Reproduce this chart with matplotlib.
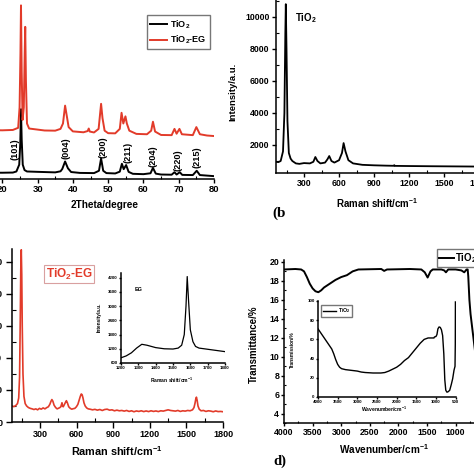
import numpy as np
import matplotlib
matplotlib.use('Agg')
import matplotlib.pyplot as plt
from matplotlib.ticker import MultipleLocator

plt.rcParams['font.family'] = ['Liberation Sans', 'DejaVu Sans']
plt.rcParams['font.weight'] = 'bold'
plt.rcParams['mathtext.fontset'] = 'custom'
plt.rcParams['mathtext.rm'] = 'Liberation Sans:bold'
plt.rcParams['mathtext.bf'] = 'Liberation Sans:bold'
plt.rcParams['mathtext.default'] = 'bf'
plt.rcParams['axes.linewidth'] = 1.1

RED = '#e23b2a'

# ---- (a) XRD ----
xrd_x_tio2 = [10, 20, 23, 24, 24.8, 25.1, 25.3, 25.5, 25.8, 26.3, 27, 30, 35, 36.5, 37, 37.8, 38.6,
              39.5, 42, 46, 47.4, 48.0, 48.6, 49.5, 52, 53.3, 53.9, 54.4, 55.1, 55.8, 57, 60, 62,
              62.7, 63.5, 65, 68, 68.8, 69.4, 70.3, 71, 74, 75.1, 76, 78, 80]
xrd_y_tio2 = [3.6, 3.5, 3.6, 4.2, 8, 20, 39, 22, 8, 5, 4.2, 4.0, 3.7, 4.3, 5.6, 9.8, 6,
              3.9, 3.4, 3.3, 4.6, 11.5, 4.6, 3.3, 3.1, 4.1, 8.5, 5.5, 7.8, 4.0, 2.9, 2.7, 3.2,
              6.2, 3.0, 2.5, 2.4, 3.8, 2.5, 3.8, 2.3, 2.2, 4.6, 2.2, 1.9, 1.6]
xrd_x_eg = [10, 20, 23, 24.5, 24.9, 25.15, 25.3, 25.5, 25.75, 26.1, 26.35, 26.5, 26.7, 27, 27.6,
            30, 32, 35, 36.5, 37.2, 37.8, 38.3, 38.8, 40, 43, 44.2, 44.5, 44.8, 46, 47.3, 47.7,
            48.0, 48.4, 49, 50, 52, 53.3, 53.8, 54.3, 54.9, 55.3, 56, 58, 61, 62.2, 62.7, 63.3,
            65, 68, 68.8, 69.4, 70.2, 70.9, 74, 75, 76, 78, 80]
xrd_y_eg = [27.5, 27.2, 27.4, 28.6, 40, 70, 97, 60, 33, 40, 70, 85, 55, 31, 28.2,
            27.6, 27.1, 27.0, 28.0, 31, 41, 35, 29, 26.6, 26.1, 26.8, 28.2, 26.5, 26.0, 28, 36,
            42, 34, 27, 25.6, 25.5, 28, 37, 31, 35, 31, 27, 25.2, 25.0, 27, 32, 26.5,
            24.6, 24.5, 28, 25.3, 28, 25.0, 24.5, 29, 25.0, 24.3, 24.0]
hkl_labels = ['(101)', '(004)', '(200)', '(211)', '(204)', '(220)', '(215)']
hkl_x = [23.6, 38.0, 48.5, 55.6, 62.7, 69.8, 75.2]
hkl_y = [16.8, 17.0, 17.6, 15.1, 12.8, 10.6, 12.0]

# ---- (b) Raman TiO2 ----
raman_x_tio2 = [60, 80, 100, 120, 132, 140, 144, 150, 158, 170, 185, 200, 230, 260, 300, 350,
                380, 397, 415, 440, 480, 500, 516, 535, 560, 600, 625, 639, 655, 680, 720, 800,
                900, 1000, 1068, 1073, 1078, 1200, 1400, 1600, 1800, 1850]
raman_y_tio2 = [950, 930, 1000, 1600, 4000, 9000, 10800, 8000, 3500, 1500, 1150, 1000, 850, 820,
                870, 850, 950, 1250, 1000, 850, 900, 1100, 1310, 1000, 900, 1050, 1500, 2120,
                1600, 1050, 850, 760, 730, 710, 700, 740, 695, 685, 672, 662, 652, 650]

# ---- (c) Raman TiO2-EG ----
raman_x_eg = [70, 85, 100, 115, 125, 132, 138, 142, 146, 150, 154, 160, 168, 178, 190, 205, 220,
              235, 250, 265, 280, 295, 310, 325, 340, 355, 368, 380, 390, 397, 405, 415, 428,
              440, 452, 462, 470, 476, 480, 484, 490, 500, 510, 516, 524, 535, 548, 560, 572,
              585, 598, 610, 620, 630, 638, 645, 652, 660, 670, 682, 695, 710, 730, 750, 770,
              790, 810, 830, 850, 870, 890, 910, 930, 950, 970, 990, 1010, 1030, 1050, 1070,
              1090, 1110, 1130, 1150, 1170, 1190, 1210, 1230, 1250, 1270, 1290, 1310, 1330,
              1350, 1370, 1390, 1410, 1430, 1450, 1470, 1490, 1510, 1530, 1550, 1562, 1570,
              1576, 1582, 1588, 1595, 1605, 1620, 1640, 1660, 1680, 1700, 1720, 1740, 1760,
              1780, 1800]
raman_y_eg = [1000, 960, 1020, 1150, 1500, 2800, 6500, 9500, 10750, 9200, 6000, 3000, 1600, 1150,
              1000, 900, 850, 820, 780, 820, 760, 850, 800, 880, 820, 900, 950, 1100, 1300,
              1400, 1300, 1050, 900, 820, 860, 900, 950, 1100, 1200, 1000, 950, 1100, 1250,
              1330, 1200, 950, 850, 800, 830, 850, 950, 1100, 1350, 1600, 1750, 1700, 1500,
              1200, 1000, 880, 820, 800, 760, 790, 740, 780, 720, 780, 800, 740, 760, 700, 740,
              700, 720, 680, 720, 660, 700, 640, 690, 660, 700, 650, 690, 650, 700, 660, 690,
              650, 700, 680, 720, 760, 720, 700, 680, 720, 660, 700, 680, 720, 700, 760, 900,
              1150, 1400, 1550, 1350, 1000, 800, 700, 720, 660, 700, 680, 640, 690, 650, 660, 640]

# inset: EG
eg_x = [1200, 1230, 1260, 1290, 1320, 1350, 1400, 1450, 1500, 1530, 1550, 1565, 1575, 1582,
        1590, 1600, 1615, 1630, 1650, 1700, 1750, 1800]
eg_y = [820, 900, 1030, 1230, 1390, 1350, 1250, 1200, 1190, 1230, 1350, 1800, 3000, 4250,
        3200, 2000, 1500, 1300, 1230, 1180, 1130, 1080]

# ---- (d) FTIR ----
ftir_x = [4000, 3800, 3700, 3650, 3600, 3550, 3500, 3450, 3400, 3350, 3300, 3200, 3100, 3000,
          2950, 2900, 2850, 2800, 2700, 2300, 2250, 2200, 1800, 1600, 1540, 1490, 1440, 1400,
          1250, 1200, 1170, 1130, 1000, 900, 850, 810, 790, 780, 760, 740, 720, 700, 680,
          650, 600, 500]
ftir_y = [19.2, 19.25, 19.2, 19.0, 18.4, 17.7, 17.2, 16.9, 16.8, 17.0, 17.3, 17.7, 18.1, 18.4,
          18.5, 18.6, 18.8, 19.0, 19.2, 19.25, 19.05, 19.2, 19.25, 19.2, 18.9, 18.35, 19.0, 19.2,
          19.2, 19.1, 18.9, 19.2, 19.2, 19.1, 18.9, 19.2, 19.2, 18.5, 16, 14.5, 13.5, 12.5,
          11.5, 10, 8, 5]

# inset: TiO2 transmission
tr_x = [4000, 3950, 3900, 3800, 3700, 3650, 3600, 3550, 3500, 3450, 3400, 3300, 3100, 3000,
        2900, 2800, 2600, 2400, 2300, 2200, 2100, 2000, 1900, 1800, 1700, 1600, 1500, 1400,
        1300, 1200, 1050, 1040, 1000, 975, 950, 920, 890, 860, 830, 800, 775, 750, 720, 690,
        650, 610, 575, 540, 515, 508, 505]
tr_y = [71, 68, 65, 59, 53, 50, 45, 39, 34, 31, 29.5, 28.5, 27.5, 27, 26, 25.5, 25, 25, 25.5,
        27, 29, 31, 34, 38, 41, 46, 51, 56, 60, 61.5, 61.5, 62.5, 63, 65, 71, 73, 72.5, 70, 64,
        45, 18, 7, 5, 5.5, 7, 13, 19, 28, 32, 55, 99]

fig = plt.figure(figsize=(4.74, 4.74), dpi=100)


def box(l, t, r, b):
    return [l / 474, 1 - b / 474, (r - l) / 474, (b - t) / 474]


def style(ax, size, ln=3, pad=1.5):
    ax.spines['top'].set_visible(False)
    ax.spines['right'].set_visible(False)
    ax.tick_params(which='major', direction='out', length=ln, width=1, labelsize=size, pad=pad)
    ax.tick_params(which='minor', direction='in', length=ln * 0.7, width=0.8)


def ftext(x, y, s, **kw):
    kw.setdefault('ha', 'center')
    kw.setdefault('va', 'center')
    fig.text(x / 474, 1 - y / 474, s, **kw)


# (a)
ax = fig.add_axes(box(-33, 0, 214, 179))
ax.plot(xrd_x_tio2, xrd_y_tio2, color='black', lw=1.4, label='TiO$_2$')
ax.plot(xrd_x_eg, xrd_y_eg, color=RED, lw=1.4, label='TiO$_2$-EG')
ax.set_xlim(10, 80)
ax.set_ylim(0, 100)
style(ax, 6.8)
ax.spines['left'].set_visible(False)
ax.set_yticks([])
ax.xaxis.set_major_locator(MultipleLocator(10))
ax.xaxis.set_minor_locator(MultipleLocator(5))
for lab, x, y in zip(hkl_labels, hkl_x, hkl_y):
    ax.text(x, y, lab, rotation=90, ha='center', va='center', fontsize=6.6)
ax.legend(loc='upper left', bbox_to_anchor=(147 / 474, 1 - 15 / 474), bbox_transform=fig.transFigure,
          fontsize=6.5, frameon=True, fancybox=False, edgecolor='#555555', borderaxespad=0,
          handlelength=1.9, handletextpad=0.3, labelspacing=0.35, borderpad=0.35)
ftext(105, 205, '2Theta/degree', fontsize=7.2)

# (b)
ax = fig.add_axes(box(276, 0, 485, 173))
ax.plot(raman_x_tio2, raman_y_tio2, color='black', lw=1.3)
ax.set_xlim(60, 1850)
ax.set_ylim(250, 11060)
style(ax, 6.3)
ax.xaxis.set_major_locator(MultipleLocator(300))
ax.xaxis.set_minor_locator(MultipleLocator(150))
ax.yaxis.set_major_locator(MultipleLocator(2000))
ax.yaxis.set_minor_locator(MultipleLocator(1000))
ax.text(315, 9900, 'TiO$_2$', ha='center', va='center', fontsize=7)
ftext(233, 92, 'Intensity/a.u.', rotation=90, fontsize=6.8)
ftext(377, 203, 'Raman shift/cm$^{-1}$', fontsize=7)
ftext(279, 213, '(b', fontsize=11, family=['Liberation Serif', 'DejaVu Serif'])

# (c)
ax = fig.add_axes(box(12, 249, 223, 422))
ax.plot(raman_x_eg, raman_y_eg, color=RED, lw=1.2)
ax.set_xlim(70, 1800)
ax.set_ylim(0, 10800)
style(ax, 6.5, ln=4)
ax.tick_params(axis='y', pad=3)
ax.xaxis.set_major_locator(MultipleLocator(300))
ax.xaxis.set_minor_locator(MultipleLocator(150))
ax.yaxis.set_major_locator(MultipleLocator(2000))
ax.yaxis.set_minor_locator(MultipleLocator(1000))
ftext(69, 274, 'TiO$_2$-EG', fontsize=8.5, color=RED,
      bbox=dict(boxstyle='square,pad=0.15', fc='white', ec='#d9a0a0', lw=0.8))
ftext(117, 451, 'Raman shift/cm$^{-1}$', fontsize=7.8)

ins = fig.add_axes(box(121, 273, 225, 363))
ins.plot(eg_x, eg_y, color='black', lw=0.9)
ins.set_xlim(1200, 1800)
ins.set_ylim(600, 4400)
style(ins, 3.2, ln=1.5, pad=1)
ins.xaxis.set_major_locator(MultipleLocator(100))
ins.yaxis.set_major_locator(MultipleLocator(600))
ins.text(1300, 3700, 'EG', fontsize=4, ha='center', va='center')
ftext(99, 317, 'Intensity/a.u.', rotation=90, fontsize=3.4)
ftext(172, 380, 'Raman shift/cm$^{-1}$', fontsize=3.6)

# (d)
ax = fig.add_axes(box(284, 260, 490, 423))
ax.plot(ftir_x, ftir_y, color='black', lw=1.4, label='TiO$_2$')
ax.set_xlim(4000, 400)
ax.set_ylim(3, 20.2)
style(ax, 6.3, ln=2.5, pad=1)
ax.xaxis.set_major_locator(MultipleLocator(500))
ax.xaxis.set_minor_locator(MultipleLocator(250))
ax.yaxis.set_major_locator(MultipleLocator(2))
ax.yaxis.set_minor_locator(MultipleLocator(1))
ax.legend(loc='upper left', bbox_to_anchor=(437 / 474, 1 - 249 / 474), bbox_transform=fig.transFigure,
          fontsize=7, frameon=True, fancybox=False, edgecolor='#555555', borderaxespad=0,
          handlelength=1.5, handletextpad=0.2, borderpad=0.2)
ftext(254, 344, 'Transmittance/%', rotation=90, fontsize=7)
ftext(384, 449, 'Wavenumber/cm$^{-1}$', fontsize=7.2)
ftext(280, 461, 'd)', fontsize=10.5, family=['Liberation Serif', 'DejaVu Serif'])

ins = fig.add_axes(box(318, 301, 456, 397))
ins.plot(tr_x, tr_y, color='black', lw=1.0, label='TiO$_2$')
ins.set_xlim(4000, 490)
ins.set_ylim(0, 100)
style(ins, 3.2, ln=1.5, pad=1)
ins.xaxis.set_major_locator(MultipleLocator(500))
ins.yaxis.set_major_locator(MultipleLocator(20))
ins.legend(loc='upper left', bbox_to_anchor=(321 / 474, 1 - 305 / 474), bbox_transform=fig.transFigure,
           fontsize=3.8, frameon=True, fancybox=False, edgecolor='#555555', borderaxespad=0,
           handlelength=2.5, handletextpad=0.4, borderpad=0.3)
ftext(292, 350, 'Transmission/%', rotation=90, fontsize=3.4)
ftext(384, 409, 'Wavenumber/cm$^{-1}$', fontsize=3.6)

fig.savefig('out.png', dpi=100)
